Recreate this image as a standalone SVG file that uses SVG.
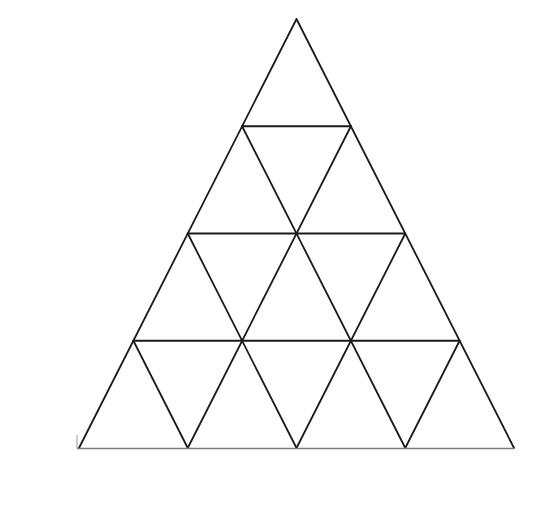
<svg xmlns="http://www.w3.org/2000/svg" width="546" height="510" viewBox="0 0 546 510">
<style>
.l{stroke:#1a1a1a;stroke-width:1.8;fill:none;stroke-linecap:round}
.b{stroke:#7a7a7a;stroke-width:1.7;fill:none}
.t{stroke:#a8a8a8;stroke-width:1.2;fill:none}
</style>
<rect width="546" height="510" fill="#ffffff"/>
<g id="grid">
<path class="l" d="M296.5,19 L79,448 M296.5,19 L514,448"/>
<path class="l" d="M350.9,126.25 L187.75,448 M405.25,233.5 L296.5,448 M459.6,340.75 L405.25,448"/>
<path class="l" d="M242.1,126.25 L405.25,448 M187.75,233.5 L296.5,448 M133.4,340.75 L187.75,448"/>
<path class="l" d="M242.1,126.25 H350.9 M187.75,233.5 H405.25 M133.4,340.75 H459.6"/>
<path class="b" d="M77,448.5 H514"/>
<path class="t" d="M77,435 V448.5"/>
</g>
</svg>
